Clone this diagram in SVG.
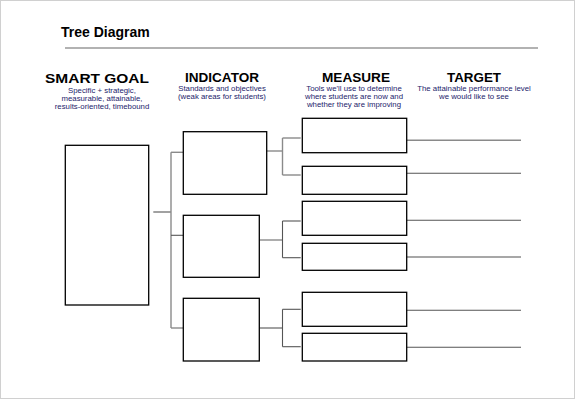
<svg xmlns="http://www.w3.org/2000/svg" width="585" height="400" viewBox="0 0 585 400">
<style>
.page{fill:#fff;stroke:#d0d0d0;stroke-width:1}
.box{fill:#fff;stroke:#000;stroke-width:1.3}
.c{fill:none;stroke:#555;stroke-width:1.1}
.cl{fill:none;stroke:#8a8a8a;stroke-width:1.4}
.h{font-family:"Liberation Sans",Arial,sans-serif;font-weight:bold;font-size:13.5px;fill:#000;text-anchor:middle}
.s{font-family:"Liberation Sans",Arial,sans-serif;font-size:7.8px;fill:#23236b;text-anchor:middle}
.t{font-family:"Liberation Sans",Arial,sans-serif;font-weight:bold;font-size:14px;fill:#000}
</style>
<rect class="page" x="0.5" y="0.5" width="574" height="398"/>
<g id="title">
<text class="t" x="61" y="37">Tree Diagram</text>
<line x1="65" y1="48" x2="538" y2="48" stroke="#999" stroke-width="1.3"/>
</g>
<g id="headers">
<text class="h" x="97" y="83" textLength="104" lengthAdjust="spacingAndGlyphs">SMART GOAL</text>
<text class="s" x="102" y="93">Specific + strategic,</text>
<text class="s" x="102" y="101">measurable, attainable,</text>
<text class="s" x="102" y="109">results-oriented, timebound</text>
<text class="h" x="222" y="82" textLength="74" lengthAdjust="spacingAndGlyphs">INDICATOR</text>
<text class="s" x="222" y="91">Standards and objectives</text>
<text class="s" x="222" y="99">(weak areas for students)</text>
<text class="h" x="356" y="82" textLength="68" lengthAdjust="spacingAndGlyphs">MEASURE</text>
<text class="s" x="354" y="91">Tools we'll use to determine</text>
<text class="s" x="354" y="99">where students are now and</text>
<text class="s" x="354" y="107">whether they are improving</text>
<text class="h" x="474" y="82" textLength="54" lengthAdjust="spacingAndGlyphs">TARGET</text>
<text class="s" x="474" y="91">The attainable performance level</text>
<text class="s" x="474" y="99">we would like to see</text>
</g>
<g id="connectors">
<path class="c" d="M153.3 212H171"/>
<path class="cl" d="M171 152.3V328"/>
<path class="cl" d="M171 152.3H183.3"/>
<path class="c" d="M171 235.3H183.3"/>
<path class="cl" d="M171 328H183.3"/>
<path class="cl" d="M266.7 151H282.5"/>
<path class="cl" d="M282.5 138V175"/>
<path class="cl" d="M282.5 138H300.7"/>
<path class="cl" d="M282.5 175H300.7"/>
<path class="cl" d="M259.3 240H282.5"/>
<path class="c" d="M282.5 221V257.7"/>
<path class="c" d="M282.5 221H300.7"/>
<path class="c" d="M282.5 257.7H300.7"/>
<path class="c" d="M259.3 328H282.5"/>
<path class="c" d="M282.5 309.3V346.7"/>
<path class="c" d="M282.5 309.3H300.7"/>
<path class="c" d="M282.5 346.7H300.7"/>
<path class="cl" d="M406.7 140.3H521"/>
<path class="c" d="M406.7 173.3H521"/>
<path class="c" d="M406.7 220.3H521"/>
<path class="cl" d="M406.7 257H521"/>
<path class="c" d="M406.7 310.3H521"/>
<path class="c" d="M406.7 347.3H521"/>
</g>
<g id="goal"><rect class="box" x="65.3" y="145.3" width="83.4" height="159.7"/></g>
<g id="indicator1"><rect class="box" x="183.3" y="131.7" width="83.4" height="62.6"/></g>
<g id="indicator2"><rect class="box" x="183.3" y="215.3" width="76" height="62"/></g>
<g id="indicator3"><rect class="box" x="183.3" y="298.3" width="76" height="62.7"/></g>
<g id="measure1"><rect class="box" x="302.3" y="118.3" width="104.4" height="34.4"/></g>
<g id="measure2"><rect class="box" x="302.3" y="166.3" width="104.4" height="28"/></g>
<g id="measure3"><rect class="box" x="302.3" y="201.3" width="104.4" height="34"/></g>
<g id="measure4"><rect class="box" x="302.3" y="243.3" width="104.4" height="27"/></g>
<g id="measure5"><rect class="box" x="302.3" y="292.3" width="104.4" height="34"/></g>
<g id="measure6"><rect class="box" x="302.3" y="333.3" width="104.4" height="27.7"/></g>
</svg>
